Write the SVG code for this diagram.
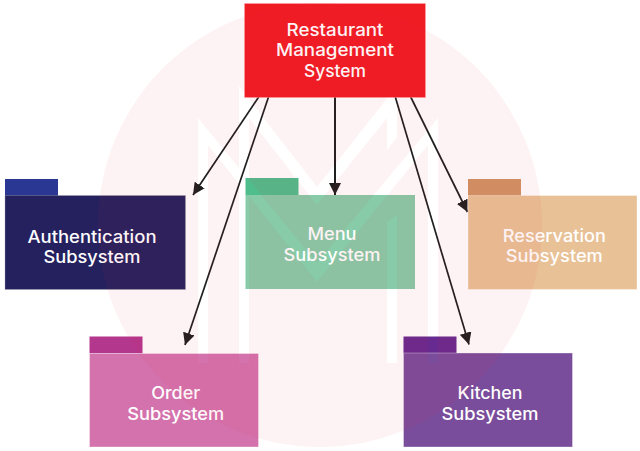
<svg xmlns="http://www.w3.org/2000/svg" width="640" height="451" viewBox="0 0 640 451">
<style>
.t{font-family:"Inter","Noto Sans","Liberation Sans",sans-serif;font-size:17px;font-weight:500;fill:#fff;text-anchor:middle}
.s{stroke-opacity:.35;stroke-width:1}
.c{stroke:#1f1f1f;stroke-width:1.7;fill:none;marker-end:url(#a)}
</style>
<defs>
<marker id="a" markerUnits="userSpaceOnUse" markerWidth="13" markerHeight="12" refX="12" refY="6" orient="auto"><path d="M0 0L12 6L0 12Z" fill="#1f1f1f"/></marker>
<mask id="m" maskUnits="userSpaceOnUse" x="0" y="0" width="640" height="451">
<circle cx="320" cy="225" r="222" fill="#fff"/>
<g fill="#000">
<path d="M198 118L317 263L438 118V363H428V145L317 282L208 145V363H198Z"/>
<path d="M239 86L317 187L397 86V137L387 150V118L317 205L249 118V363H239Z"/>
<path d="M387 222L397 215V363H387Z"/>
</g>
</mask>
</defs>
<rect width="640" height="451" fill="#fff"/>
<g id="connectors">
<path class="c" d="M258.7 97L193 195"/>
<path class="c" d="M268.5 97L185 345"/>
<path class="c" style="stroke-width:2" d="M335 97V195"/>
<path class="c" d="M395.3 97L469 344.5"/>
<path class="c" d="M410.7 97L467.5 212"/>
</g>
<g id="root"><rect x="244.5" y="3.5" width="181" height="94" fill="#f01c24" stroke="#ffb0b0" class="s"/>
<text class="t" x="335" y="35.5" textLength="97" lengthAdjust="spacingAndGlyphs">Restaurant</text><text class="t" x="335" y="56" textLength="118" lengthAdjust="spacingAndGlyphs">Management</text><text class="t" x="335" y="76.5" textLength="62" lengthAdjust="spacingAndGlyphs">System</text></g>
<g id="auth"><rect x="5" y="179" width="53" height="17" fill="#2a3793"/><rect x="5" y="195.5" width="180.5" height="94" fill="#25215f" stroke="#aaa" class="s"/>
<text class="t" x="92" y="242.5" textLength="129" lengthAdjust="spacingAndGlyphs">Authentication</text><text class="t" x="92" y="263" textLength="97" lengthAdjust="spacingAndGlyphs">Subsystem</text></g>
<g id="menu"><rect x="245.5" y="178" width="53" height="17" fill="#50bd8c"/><rect x="245.5" y="195" width="169.5" height="94" fill="#87cba8"/>
<text class="t" x="332" y="240" textLength="49" lengthAdjust="spacingAndGlyphs">Menu</text><text class="t" x="332" y="260.5" textLength="97" lengthAdjust="spacingAndGlyphs">Subsystem</text></g>
<g id="reservation"><rect x="468" y="179" width="53" height="17" fill="#d09264"/><rect x="468" y="195.5" width="169" height="94" fill="#e8c196" stroke="#fff" class="s"/>
<text class="t" x="554.3" y="241.5" textLength="103" lengthAdjust="spacingAndGlyphs">Reservation</text><text class="t" x="554.3" y="262" textLength="97" lengthAdjust="spacingAndGlyphs">Subsystem</text></g>
<g id="order"><rect x="89.5" y="336.5" width="53" height="17" fill="#b4378e"/><rect x="89.5" y="353.5" width="169" height="93.5" fill="#d472ad" stroke="#fff" class="s"/>
<text class="t" x="175.7" y="399" textLength="49" lengthAdjust="spacingAndGlyphs">Order</text><text class="t" x="175.7" y="420" textLength="97" lengthAdjust="spacingAndGlyphs">Subsystem</text></g>
<g id="kitchen"><rect x="403.5" y="336.5" width="53" height="17" fill="#672a90"/><rect x="403.5" y="353" width="169" height="94" fill="#7a4d9c" stroke="#fff" class="s"/>
<text class="t" x="490" y="398.5" textLength="65" lengthAdjust="spacingAndGlyphs">Kitchen</text><text class="t" x="490" y="419.5" textLength="97" lengthAdjust="spacingAndGlyphs">Subsystem</text></g>
<rect id="watermark" width="640" height="451" fill="#ed1c3c" fill-opacity=".055" mask="url(#m)"/>
</svg>
